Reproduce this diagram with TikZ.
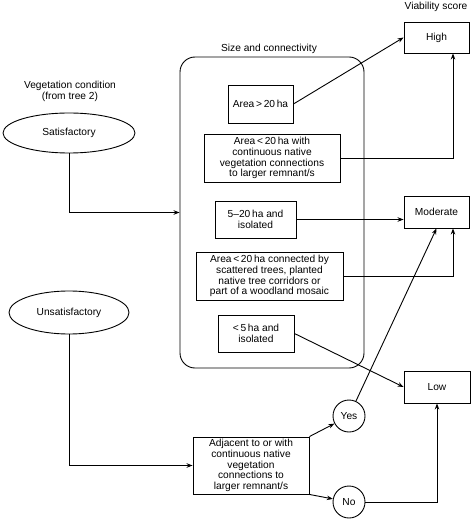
\documentclass[tikz,border=0pt]{standalone}
\usepackage{fontspec}
\setmainfont{Liberation Sans}
\usetikzlibrary{arrows.meta,shapes.geometric}
\begin{document}
\begin{tikzpicture}[x=1pt,y=-1pt,
  every node/.style={font=\fontsize{10.2}{10.8}\selectfont, align=center, inner sep=0pt},
  box/.style={draw, line width=0.9pt, rectangle},
  oval/.style={draw, line width=0.9pt, ellipse},
  circ/.style={draw, line width=0.9pt, circle, minimum size=32pt},
  lbl/.style={},
  arr/.style={line width=0.9pt, -{Stealth[length=6pt,width=4.5pt]}},
  ln/.style={line width=0.9pt}]
\useasboundingbox (0,0) rectangle (474,521);
% titles
\node[lbl] (tvs) at (436,7) {Viability score};
\node[lbl] (tsc) at (269,49) {Size and connectivity};
\node[lbl] (tvc) at (70,91.5) {Vegetation condition\\(from tree 2)};
% score boxes
\node[box, minimum width=65pt, minimum height=31pt] (high) at (436.5,37.5) {High};
\node[box, minimum width=65pt, minimum height=32pt] (mod) at (436.5,212) {Moderate};
\node[box, minimum width=66pt, minimum height=32pt] (low) at (437,387) {Low};
% big container
\node[draw, line width=0.9pt, rounded corners=15pt, minimum width=184pt, minimum height=311pt] (big) at (272,212.5) {};
% inner boxes
\node[box, minimum width=65pt, minimum height=38pt] (a20) at (260.5,104) {Area\,>\,20\,ha};
\node[box, minimum width=136pt, minimum height=48pt] (a20c) at (272,158) {Area\,<\,20\,ha with\\continuous native\\vegetation connections\\to larger remnant/s};
\node[box, minimum width=81pt, minimum height=37pt] (i520) at (255.5,219.5) {5--20\,ha and\\isolated};
\node[box, minimum width=147pt, minimum height=48pt] (conn) at (269.5,276) {Area\,<\,20\,ha connected by\\scattered trees, planted\\native tree corridors or\\part of a woodland mosaic};
\node[box, minimum width=76pt, minimum height=37pt] (i5) at (256,333.5) {<\,5\,ha and\\isolated};
% ovals
\node[oval, minimum width=132pt, minimum height=40pt] (sat) at (69,133) {Satisfactory};
\node[oval, minimum width=120pt, minimum height=43pt] (unsat) at (69,312.5) {Unsatisfactory};
% adjacency
\node[box, minimum width=116pt, minimum height=57pt] (adj) at (251,465.5) {Adjacent to or with\\continuous native\\vegetation\\connections to\\larger remnant/s};
\node[circ] (yes) at (349,416) {Yes};
\node[circ] (no) at (349,502) {No};
% connectors
\draw[arr] (sat.south) |- (big.west);
\draw[arr] (a20.east) -- (high.west);
\draw[arr] (a20c.east) -| ([xshift=16.5pt]high.south);
\draw[arr] (i520.east) -- (i520.east -| mod.west);
\draw[arr] (conn.east) -| ([xshift=16.5pt]mod.south);
\draw[arr] (i5.east) -- (low.west);
\draw[arr] (unsat.south) |- (adj.west);
\draw[arr] (adj.north east) -- (yes);
\draw[arr] (adj.south east) -- (no);
\draw[arr] (yes) -- (mod.south);
\draw[arr] (no.east) -| (low.south);
\end{tikzpicture}
\end{document}
